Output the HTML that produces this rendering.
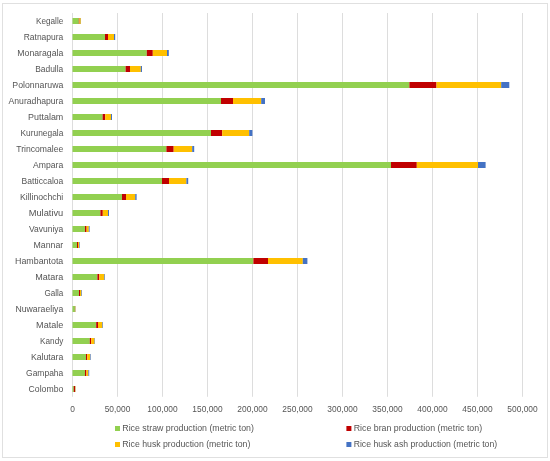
<!DOCTYPE html>
<html lang="en"><head><meta charset="utf-8"><title>Rice by-product production by district</title>
<style>html,body{margin:0;padding:0;background:#fff;}body{width:550px;height:461px;overflow:hidden;}svg{display:block;}text{font-family:"Liberation Sans",Arial,sans-serif;fill:#555555;}</style></head><body>
<svg width="550" height="461" viewBox="0 0 550 461">
<rect x="0" y="0" width="550" height="461" fill="#ffffff"/>
<rect x="2.5" y="3.5" width="545" height="454" fill="#ffffff" stroke="#E0E0E0" stroke-width="1"/>
<line x1="72.5" y1="13" x2="72.5" y2="396.8" stroke="#DDDDDD" stroke-width="1"/>
<line x1="117.5" y1="13" x2="117.5" y2="396.8" stroke="#DDDDDD" stroke-width="1"/>
<line x1="162.5" y1="13" x2="162.5" y2="396.8" stroke="#DDDDDD" stroke-width="1"/>
<line x1="207.5" y1="13" x2="207.5" y2="396.8" stroke="#DDDDDD" stroke-width="1"/>
<line x1="252.5" y1="13" x2="252.5" y2="396.8" stroke="#DDDDDD" stroke-width="1"/>
<line x1="297.5" y1="13" x2="297.5" y2="396.8" stroke="#DDDDDD" stroke-width="1"/>
<line x1="342.5" y1="13" x2="342.5" y2="396.8" stroke="#DDDDDD" stroke-width="1"/>
<line x1="387.5" y1="13" x2="387.5" y2="396.8" stroke="#DDDDDD" stroke-width="1"/>
<line x1="432.5" y1="13" x2="432.5" y2="396.8" stroke="#DDDDDD" stroke-width="1"/>
<line x1="477.5" y1="13" x2="477.5" y2="396.8" stroke="#DDDDDD" stroke-width="1"/>
<line x1="522.5" y1="13" x2="522.5" y2="396.8" stroke="#DDDDDD" stroke-width="1"/>
<rect x="72.5" y="18.0" width="6.3" height="6.0" fill="#92D050"/>
<rect x="78.8" y="18.0" width="0.7" height="6.0" fill="#C00000"/>
<rect x="79.5" y="18.0" width="1.3" height="6.0" fill="#FFC000"/>
<rect x="80.8" y="18.0" width="0.2" height="6.0" fill="#4472C4"/>
<text x="63.3" y="24.1" font-size="8.7" text-anchor="end" textLength="27.28" lengthAdjust="spacingAndGlyphs">Kegalle</text>
<rect x="72.5" y="34.0" width="32.5" height="6.0" fill="#92D050"/>
<rect x="105.0" y="34.0" width="3.0" height="6.0" fill="#C00000"/>
<rect x="108.0" y="34.0" width="6.0" height="6.0" fill="#FFC000"/>
<rect x="114.0" y="34.0" width="1.2" height="6.0" fill="#4472C4"/>
<text x="63.3" y="40.1" font-size="8.7" text-anchor="end" textLength="39.58" lengthAdjust="spacingAndGlyphs">Ratnapura</text>
<rect x="72.5" y="50.0" width="74.3" height="6.0" fill="#92D050"/>
<rect x="146.8" y="50.0" width="6.0" height="6.0" fill="#C00000"/>
<rect x="152.8" y="50.0" width="14.2" height="6.0" fill="#FFC000"/>
<rect x="167.0" y="50.0" width="1.8" height="6.0" fill="#4472C4"/>
<text x="63.3" y="56.1" font-size="8.7" text-anchor="end" textLength="45.99" lengthAdjust="spacingAndGlyphs">Monaragala</text>
<rect x="72.5" y="66.0" width="53.1" height="6.0" fill="#92D050"/>
<rect x="125.6" y="66.0" width="4.4" height="6.0" fill="#C00000"/>
<rect x="130.0" y="66.0" width="10.8" height="6.0" fill="#FFC000"/>
<rect x="140.8" y="66.0" width="1.2" height="6.0" fill="#4472C4"/>
<text x="63.3" y="72.1" font-size="8.7" text-anchor="end" textLength="28.08" lengthAdjust="spacingAndGlyphs">Badulla</text>
<rect x="72.5" y="82.0" width="336.9" height="6.0" fill="#92D050"/>
<rect x="409.4" y="82.0" width="27.1" height="6.0" fill="#C00000"/>
<rect x="436.5" y="82.0" width="64.7" height="6.0" fill="#FFC000"/>
<rect x="501.2" y="82.0" width="8.1" height="6.0" fill="#4472C4"/>
<text x="63.3" y="88.1" font-size="8.7" text-anchor="end" textLength="50.92" lengthAdjust="spacingAndGlyphs">Polonnaruwa</text>
<rect x="72.5" y="98.0" width="148.5" height="6.0" fill="#92D050"/>
<rect x="221.0" y="98.0" width="12.0" height="6.0" fill="#C00000"/>
<rect x="233.0" y="98.0" width="28.2" height="6.0" fill="#FFC000"/>
<rect x="261.2" y="98.0" width="3.8" height="6.0" fill="#4472C4"/>
<text x="63.3" y="104.1" font-size="8.7" text-anchor="end" textLength="54.78" lengthAdjust="spacingAndGlyphs">Anuradhapura</text>
<rect x="72.5" y="114.0" width="30.1" height="6.0" fill="#92D050"/>
<rect x="102.6" y="114.0" width="2.6" height="6.0" fill="#C00000"/>
<rect x="105.2" y="114.0" width="5.8" height="6.0" fill="#FFC000"/>
<rect x="111.0" y="114.0" width="1.0" height="6.0" fill="#4472C4"/>
<text x="63.3" y="120.1" font-size="8.7" text-anchor="end" textLength="35.20" lengthAdjust="spacingAndGlyphs">Puttalam</text>
<rect x="72.5" y="130.0" width="138.5" height="6.0" fill="#92D050"/>
<rect x="211.0" y="130.0" width="11.2" height="6.0" fill="#C00000"/>
<rect x="222.2" y="130.0" width="27.0" height="6.0" fill="#FFC000"/>
<rect x="249.2" y="130.0" width="3.2" height="6.0" fill="#4472C4"/>
<text x="63.3" y="136.1" font-size="8.7" text-anchor="end" textLength="42.75" lengthAdjust="spacingAndGlyphs">Kurunegala</text>
<rect x="72.5" y="146.0" width="93.9" height="6.0" fill="#92D050"/>
<rect x="166.4" y="146.0" width="7.3" height="6.0" fill="#C00000"/>
<rect x="173.7" y="146.0" width="18.5" height="6.0" fill="#FFC000"/>
<rect x="192.2" y="146.0" width="2.0" height="6.0" fill="#4472C4"/>
<text x="63.3" y="152.1" font-size="8.7" text-anchor="end" textLength="47.08" lengthAdjust="spacingAndGlyphs">Trincomalee</text>
<rect x="72.5" y="162.0" width="318.5" height="6.0" fill="#92D050"/>
<rect x="391.0" y="162.0" width="25.8" height="6.0" fill="#C00000"/>
<rect x="416.8" y="162.0" width="61.2" height="6.0" fill="#FFC000"/>
<rect x="478.0" y="162.0" width="7.6" height="6.0" fill="#4472C4"/>
<text x="63.3" y="168.1" font-size="8.7" text-anchor="end" textLength="30.22" lengthAdjust="spacingAndGlyphs">Ampara</text>
<rect x="72.5" y="178.0" width="89.5" height="6.0" fill="#92D050"/>
<rect x="162.0" y="178.0" width="7.0" height="6.0" fill="#C00000"/>
<rect x="169.0" y="178.0" width="17.4" height="6.0" fill="#FFC000"/>
<rect x="186.4" y="178.0" width="1.8" height="6.0" fill="#4472C4"/>
<text x="63.3" y="184.1" font-size="8.7" text-anchor="end" textLength="41.70" lengthAdjust="spacingAndGlyphs">Batticcaloa</text>
<rect x="72.5" y="194.0" width="49.5" height="6.0" fill="#92D050"/>
<rect x="122.0" y="194.0" width="4.0" height="6.0" fill="#C00000"/>
<rect x="126.0" y="194.0" width="9.2" height="6.0" fill="#FFC000"/>
<rect x="135.2" y="194.0" width="1.4" height="6.0" fill="#4472C4"/>
<text x="63.3" y="200.1" font-size="8.7" text-anchor="end" textLength="43.37" lengthAdjust="spacingAndGlyphs">Killinochchi</text>
<rect x="72.5" y="210.0" width="27.9" height="6.0" fill="#92D050"/>
<rect x="100.4" y="210.0" width="2.4" height="6.0" fill="#C00000"/>
<rect x="102.8" y="210.0" width="5.2" height="6.0" fill="#FFC000"/>
<rect x="108.0" y="210.0" width="1.0" height="6.0" fill="#4472C4"/>
<text x="63.3" y="216.1" font-size="8.7" text-anchor="end" textLength="34.56" lengthAdjust="spacingAndGlyphs">Mulativu</text>
<rect x="72.5" y="226.0" width="12.5" height="6.0" fill="#92D050"/>
<rect x="85.0" y="226.0" width="1.6" height="6.0" fill="#C00000"/>
<rect x="86.6" y="226.0" width="2.2" height="6.0" fill="#FFC000"/>
<rect x="88.8" y="226.0" width="0.8" height="6.0" fill="#4472C4"/>
<text x="63.3" y="232.1" font-size="8.7" text-anchor="end" textLength="34.39" lengthAdjust="spacingAndGlyphs">Vavuniya</text>
<rect x="72.5" y="242.0" width="4.5" height="6.0" fill="#92D050"/>
<rect x="77.0" y="242.0" width="1.0" height="6.0" fill="#C00000"/>
<rect x="78.0" y="242.0" width="1.2" height="6.0" fill="#FFC000"/>
<rect x="79.2" y="242.0" width="0.6" height="6.0" fill="#4472C4"/>
<text x="63.3" y="248.1" font-size="8.7" text-anchor="end" textLength="29.77" lengthAdjust="spacingAndGlyphs">Mannar</text>
<rect x="72.5" y="258.0" width="180.9" height="6.0" fill="#92D050"/>
<rect x="253.4" y="258.0" width="14.6" height="6.0" fill="#C00000"/>
<rect x="268.0" y="258.0" width="34.8" height="6.0" fill="#FFC000"/>
<rect x="302.8" y="258.0" width="4.6" height="6.0" fill="#4472C4"/>
<text x="63.3" y="264.1" font-size="8.7" text-anchor="end" textLength="48.33" lengthAdjust="spacingAndGlyphs">Hambantota</text>
<rect x="72.5" y="274.0" width="24.9" height="6.0" fill="#92D050"/>
<rect x="97.4" y="274.0" width="1.8" height="6.0" fill="#C00000"/>
<rect x="99.2" y="274.0" width="5.2" height="6.0" fill="#FFC000"/>
<rect x="104.4" y="274.0" width="0.6" height="6.0" fill="#4472C4"/>
<text x="63.3" y="280.1" font-size="8.7" text-anchor="end" textLength="28.15" lengthAdjust="spacingAndGlyphs">Matara</text>
<rect x="72.5" y="290.0" width="6.5" height="6.0" fill="#92D050"/>
<rect x="79.0" y="290.0" width="1.0" height="6.0" fill="#C00000"/>
<rect x="80.0" y="290.0" width="1.4" height="6.0" fill="#FFC000"/>
<rect x="81.4" y="290.0" width="0.6" height="6.0" fill="#4472C4"/>
<text x="63.3" y="296.1" font-size="8.7" text-anchor="end" textLength="18.88" lengthAdjust="spacingAndGlyphs">Galla</text>
<rect x="72.5" y="306.0" width="2.4" height="6.0" fill="#92D050"/>
<rect x="74.9" y="306.0" width="0.2" height="6.0" fill="#C00000"/>
<rect x="75.1" y="306.0" width="0.4" height="6.0" fill="#FFC000"/>
<rect x="75.5" y="306.0" width="0.2" height="6.0" fill="#4472C4"/>
<text x="63.3" y="312.1" font-size="8.7" text-anchor="end" textLength="47.81" lengthAdjust="spacingAndGlyphs">Nuwaraeliya</text>
<rect x="72.5" y="322.0" width="23.7" height="6.0" fill="#92D050"/>
<rect x="96.2" y="322.0" width="1.8" height="6.0" fill="#C00000"/>
<rect x="98.0" y="322.0" width="4.4" height="6.0" fill="#FFC000"/>
<rect x="102.4" y="322.0" width="0.6" height="6.0" fill="#4472C4"/>
<text x="63.3" y="328.1" font-size="8.7" text-anchor="end" textLength="27.18" lengthAdjust="spacingAndGlyphs">Matale</text>
<rect x="72.5" y="338.0" width="17.3" height="6.0" fill="#92D050"/>
<rect x="89.8" y="338.0" width="1.4" height="6.0" fill="#C00000"/>
<rect x="91.2" y="338.0" width="3.4" height="6.0" fill="#FFC000"/>
<rect x="94.6" y="338.0" width="0.4" height="6.0" fill="#4472C4"/>
<text x="63.3" y="344.1" font-size="8.7" text-anchor="end" textLength="23.24" lengthAdjust="spacingAndGlyphs">Kandy</text>
<rect x="72.5" y="354.0" width="13.5" height="6.0" fill="#92D050"/>
<rect x="86.0" y="354.0" width="1.2" height="6.0" fill="#C00000"/>
<rect x="87.2" y="354.0" width="3.0" height="6.0" fill="#FFC000"/>
<rect x="90.2" y="354.0" width="0.6" height="6.0" fill="#4472C4"/>
<text x="63.3" y="360.1" font-size="8.7" text-anchor="end" textLength="32.36" lengthAdjust="spacingAndGlyphs">Kalutara</text>
<rect x="72.5" y="370.0" width="12.5" height="6.0" fill="#92D050"/>
<rect x="85.0" y="370.0" width="1.4" height="6.0" fill="#C00000"/>
<rect x="86.4" y="370.0" width="2.0" height="6.0" fill="#FFC000"/>
<rect x="88.4" y="370.0" width="0.8" height="6.0" fill="#4472C4"/>
<text x="63.3" y="376.1" font-size="8.7" text-anchor="end" textLength="37.26" lengthAdjust="spacingAndGlyphs">Gampaha</text>
<rect x="72.5" y="386.0" width="1.3" height="6.0" fill="#92D050"/>
<rect x="73.8" y="386.0" width="1.2" height="6.0" fill="#C00000"/>
<rect x="75.0" y="386.0" width="0.5" height="6.0" fill="#FFC000"/>
<rect x="75.5" y="386.0" width="0.2" height="6.0" fill="#4472C4"/>
<text x="63.3" y="392.1" font-size="8.7" text-anchor="end" textLength="34.68" lengthAdjust="spacingAndGlyphs">Colombo</text>
<text x="72.5" y="412.3" font-size="8.4" text-anchor="middle">0</text>
<text x="117.5" y="412.3" font-size="8.4" text-anchor="middle">50,000</text>
<text x="162.5" y="412.3" font-size="8.4" text-anchor="middle">100,000</text>
<text x="207.5" y="412.3" font-size="8.4" text-anchor="middle">150,000</text>
<text x="252.5" y="412.3" font-size="8.4" text-anchor="middle">200,000</text>
<text x="297.5" y="412.3" font-size="8.4" text-anchor="middle">250,000</text>
<text x="342.5" y="412.3" font-size="8.4" text-anchor="middle">300,000</text>
<text x="387.5" y="412.3" font-size="8.4" text-anchor="middle">350,000</text>
<text x="432.5" y="412.3" font-size="8.4" text-anchor="middle">400,000</text>
<text x="477.5" y="412.3" font-size="8.4" text-anchor="middle">450,000</text>
<text x="522.5" y="412.3" font-size="8.4" text-anchor="middle">500,000</text>
<rect x="115" y="426" width="5" height="5" fill="#92D050"/>
<text x="122.3" y="431.3" font-size="8.7" textLength="131.6" lengthAdjust="spacingAndGlyphs">Rice straw production (metric ton)</text>
<rect x="346.4" y="426" width="5" height="5" fill="#C00000"/>
<text x="353.7" y="431.3" font-size="8.7" textLength="128.4" lengthAdjust="spacingAndGlyphs">Rice bran production (metric ton)</text>
<rect x="115" y="442" width="5" height="5" fill="#FFC000"/>
<text x="122.3" y="447.3" font-size="8.7" textLength="128.0" lengthAdjust="spacingAndGlyphs">Rice husk production (metric ton)</text>
<rect x="346.4" y="442" width="5" height="5" fill="#4472C4"/>
<text x="353.7" y="447.3" font-size="8.7" textLength="143.4" lengthAdjust="spacingAndGlyphs">Rice husk ash production (metric ton)</text>
</svg></body></html>
